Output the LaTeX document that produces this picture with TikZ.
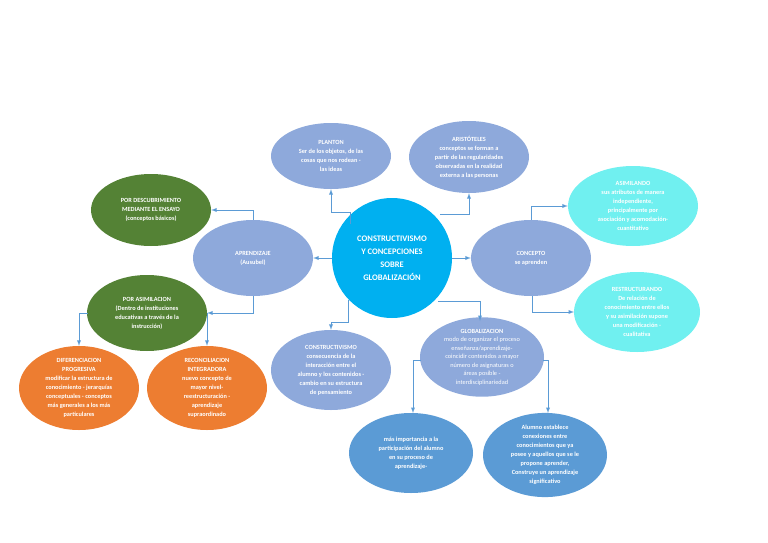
\documentclass[tikz,border=0pt]{standalone}
\usepackage{fontspec}
\setmainfont{Carlito}
\usetikzlibrary{shapes.geometric}
\definecolor{cmain}{RGB}{0,176,240}
\definecolor{cpurp}{RGB}{142,169,219}
\definecolor{ccyan}{RGB}{112,240,240}
\definecolor{cgreen}{RGB}{84,130,53}
\definecolor{corange}{RGB}{237,125,49}
\definecolor{cblue}{RGB}{91,155,213}
\definecolor{cline}{RGB}{91,155,213}
\tikzset{
 bub/.style={ellipse,minimum width=120pt,minimum height=74pt,inner sep=0pt,align=center,text=white,font=\fontsize{6.3}{9}\selectfont\bfseries},
 conn/.style={draw=cline,line width=0.9pt,-latex},
}
\begin{document}
\begin{tikzpicture}[x=1pt,y=-1pt]
\useasboundingbox (0,0) rectangle (768,543);
\node[bub,fill=cmain,minimum width=120pt,minimum height=120pt,font=\fontsize{8.5}{13}\selectfont\bfseries] (c) at (392,258) {CONSTRUCTIVISMO\\Y CONCEPCIONES\\SOBRE\\GLOBALIZACIÓN};
\node[bub,fill=cpurp,minimum height=66pt] (pl) at (331,156) {PLANTON\\Ser de los objetos, de las\\cosas que nos rodean -\\las ideas};
\node[bub,fill=cpurp,minimum height=72pt] (ar) at (469,157) {ARISTÓTELES\\conceptos se forman a\\partir de las regularidades\\observadas en la realidad\\externa a las personas};
\node[bub,fill=ccyan,minimum width=130pt,minimum height=80pt] (as) at (633,206) {ASIMILANDO\\sus atributos de manera\\independiente,\\principalmente por\\asociación y acomodación-\\cuantitativo};
\node[bub,fill=cpurp,minimum height=76pt] (co) at (531,258) {CONCEPTO\\se aprenden};
\node[bub,fill=ccyan,minimum width=126pt,minimum height=80pt] (re) at (637,312) {RESTRUCTURANDO\\De relación de\\conocimiento entre ellos\\y su asimilación supone\\una modificación -\\cualitativa};
\node[bub,fill=cgreen,minimum height=72pt] (pd) at (151,210) {POR DESCUBRIMIENTO\\MEDIANTE EL ENSAYO\\(conceptos básicos)};
\node[bub,fill=cpurp,minimum height=76pt] (ap) at (253,258) {APRENDIZAJE\\(Ausubel)};
\node[bub,fill=cgreen,minimum height=76pt] (pa) at (147,313) {POR ASIMILACION\\(Dentro de instituciones\\educativas a través de la\\instrucción)};
\node[bub,fill=corange,minimum height=84pt] (di) at (79,388) {DIFERENCIACION\\PROGRESIVA\\modificar la estructura de\\conocimiento - jerarquías\\conceptuales - conceptos\\más generales a los más\\particulares};
\node[bub,fill=corange,minimum height=84pt] (rc) at (207,388) {RECONCILIACION\\INTEGRADORA\\nuevo concepto de\\mayor nivel-\\reestructuración -\\aprendizaje\\supraordinado};
\node[bub,fill=cpurp,minimum height=80pt] (cn) at (331,370) {CONSTRUCTIVISMO\\consecuencia de la\\interacción entre el\\alumno y los contenidos -\\cambio en su estructura\\de pensamiento};
\node[bub,fill=cpurp,minimum width=124pt,minimum height=72pt,font=\fontsize{6.3}{8.5}\selectfont] (gl) at (482,357) {\textbf{GLOBALIZACION}\\modo de organizar el proceso\\enseñanza/aprendizaje-\\coincidir contenidos a mayor\\número de asignaturas o\\áreas posible -\\interdisciplinariedad};
\node[bub,fill=cblue,minimum width=124pt,minimum height=80pt] (mi) at (411,453) {más importancia a la\\participación del alumno\\en su proceso de\\aprendizaje-};
\node[bub,fill=cblue,minimum width=124pt,minimum height=84pt] (al) at (545,455) {Alumno establece\\conexiones entre\\conocimientos que ya\\posee y aquellos que se le\\propone aprender,\\Construye un aprendizaje\\significativo};
% connectors
\coordinate (c1) at (350,224);
\draw[conn] (c1) |- (331,212) -- (pl.south);
\coordinate (c2) at (440,214);
\draw[conn] (c2) -- (469,214) -- (ar.south);
\draw[conn] (c.east) -- (co.west);
\draw[conn] (c.west) -- (ap.east);
\draw[conn] (ap.north) |- (pd.east);
\draw[conn] (ap.south) |- (pa.east);
\coordinate (p1) at (88,313);
\draw[conn] (p1) -- (79,313) -- (di.north);
\draw[conn] (207,313) -- (rc.north);
\draw[conn] (co.north) |- (as.west);
\coordinate (k1) at (532,296);
\draw[conn] (k1) |- (574,312);
\coordinate (c3) at (348,300);
\draw[conn] (c3) -- (348,322) -- (331,322) -- (cn.north);
\coordinate (c4) at (438,301);
\draw[conn] (c4) -- (480,301) -- (480,321);
\coordinate (g1) at (421,360);
\draw[conn] (g1) -- (413,360) -- (413,413);
\coordinate (g2) at (543,360);
\draw[conn] (g2) -- (548,360) -- (548,413);
\end{tikzpicture}
\end{document}
